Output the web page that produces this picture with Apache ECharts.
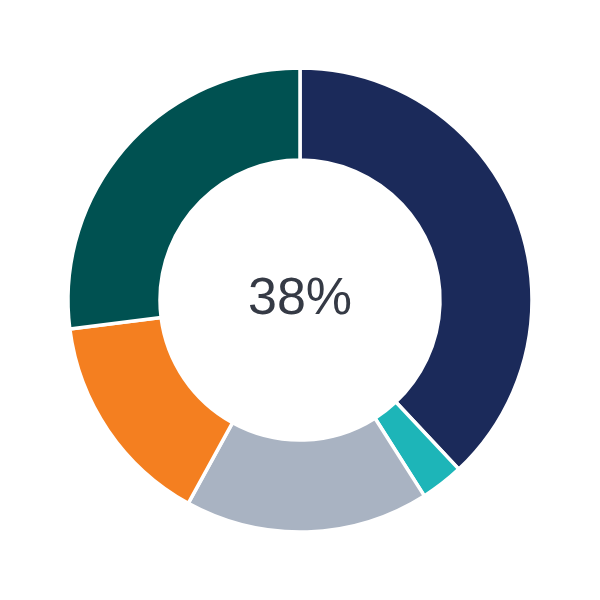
<!DOCTYPE html>
<html>
<head>
<meta charset="utf-8">
<script src="https://cdn.jsdelivr.net/npm/echarts@6/dist/echarts.min.js"></script>
<style>
  html, body { margin: 0; padding: 0; background: #fff; }
  #chart { width: 600px; height: 600px; }
</style>
</head>
<body>
<div id="chart"></div>
<script>
// slices clockwise from the top
const categories = ['A', 'B', 'C', 'D', 'E'];
const values = [38, 3, 17, 15, 27];
const colors = ['#1b2a5a', '#1db5b8', '#a9b3c2', '#f47f20', '#005151'];
const centerLabel = '38%';

const chart = echarts.init(document.getElementById('chart'));

const option = {
  animation: false,
  color: colors,
  graphic: [{
    type: 'text',
    left: 'center',
    top: 'middle',
    style: {
      text: centerLabel,
      fontSize: 52,
      fontFamily: 'Liberation Sans, Arial, sans-serif',
      fill: '#353a45'
    }
  }],
  series: [{
    type: 'pie',
    center: [300, 300],
    radius: [140, 232],
    startAngle: 90,
    clockwise: true,
    label: { show: false },
    labelLine: { show: false },
    emphasis: { disabled: true },
    itemStyle: { borderColor: '#fff', borderWidth: 3.5 },
    data: categories.map((c, i) => ({ name: c, value: values[i] }))
  }]
};

chart.setOption(option);
</script>
</body>
</html>
